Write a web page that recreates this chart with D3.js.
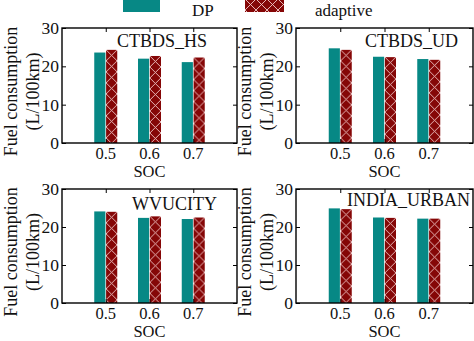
<!DOCTYPE html>
<html>
<head>
<meta charset="utf-8">
<script src="https://cdn.jsdelivr.net/npm/d3@7"></script>
<style>
  body { margin: 0; background: #fff; }
</style>
</head>
<body>
<div id="chart-area"></div>
<script>
// Data -------------------------------------------------
const socs = [0.5, 0.6, 0.7]
const series = ["DP", "adaptive"]
const cycles = ["CTBDS_HS", "CTBDS_UD", "WVUCITY", "INDIA_URBAN"]
const dpValues = [
  [23.6, 22.0, 21.1],
  [24.7, 22.5, 21.9],
  [24.1, 22.4, 22.1],
  [24.9, 22.5, 22.2]
]
const adaptiveValues = [
  [24.3, 22.7, 22.3],
  [24.3, 22.4, 21.7],
  [24.0, 22.8, 22.5],
  [24.7, 22.4, 22.2]
]
const yTicks = [0, 10, 20, 30]

// Canvas setup -----------------------------------------
const WIDTH = 474
const HEIGHT = 341
const TEAL = "#078885"
const DARKRED = "#850606"
const FONT = "'Liberation Serif', 'Times New Roman', Times, serif"

// panel boxes: left, top, width, height, and title anchor
const panels = [
  {left: 62,  top: 28,  w: 175, h: 115, tx: 117, ty: 47},
  {left: 296, top: 28,  w: 177, h: 115, tx: 365, ty: 47},
  {left: 62,  top: 189, w: 175, h: 114, tx: 132, ty: 210},
  {left: 296, top: 189, w: 177, h: 114, tx: 347, ty: 206}
]

const svg = d3.select("#chart-area").append("svg")
  .attr("width", WIDTH)
  .attr("height", HEIGHT)
  .attr("font-family", FONT)

// cross-hatch pattern for the adaptive bars
const defs = svg.append("defs")
const pat = defs.append("pattern")
  .attr("id", "xhatch")
  .attr("patternUnits", "userSpaceOnUse")
  .attr("width", 11)
  .attr("height", 11)
pat.append("rect").attr("width", 11).attr("height", 11).attr("fill", DARKRED)
pat.append("path")
  .attr("d", "M0,0L11,11M11,0L0,11")
  .attr("stroke", "#f2c8c8")
  .attr("stroke-width", 0.9)
  .attr("fill", "none")

const barBand = d3.scaleBand()
  .domain(series)
  .range([-11.5, 11.5])
  .paddingInner(0.06)

function addText(sel, fs){
  return sel.append("text")
    .attr("font-family", FONT)
    .attr("font-size", fs)
    .attr("fill", "#111")
}

cycles.forEach((cycle, k) => {
  const p = panels[k]
  const g = svg.append("g")
    .attr("transform", `translate(${p.left}, ${p.top})`)

  const x = d3.scaleLinear().domain([0.4, 0.8]).range([0, p.w])
  const y = d3.scaleLinear().domain([0, 30]).range([p.h, 0])

  const rows = socs.map((s, i) => ({soc: s, DP: dpValues[k][i], adaptive: adaptiveValues[k][i]}))

  // DP bars
  g.selectAll("rect.dp")
    .data(rows)
    .enter().append("rect")
    .attr("class", "dp")
    .attr("x", d => x(d.soc) + barBand("DP"))
    .attr("y", d => y(d.DP))
    .attr("width", barBand.bandwidth())
    .attr("height", d => y(0) - y(d.DP))
    .attr("fill", TEAL)

  // adaptive bars (group per bar so the hatch lines up with the bar edge)
  const ad = g.selectAll("g.ad")
    .data(rows)
    .enter().append("g")
    .attr("class", "ad")
    .attr("transform", d => `translate(${x(d.soc) + barBand("adaptive")}, ${y(d.adaptive)})`)
  ad.append("rect")
    .attr("width", barBand.bandwidth())
    .attr("height", d => y(0) - y(d.adaptive))
    .attr("fill", "url(#xhatch)")

  // frame
  g.append("rect")
    .attr("width", p.w)
    .attr("height", p.h)
    .attr("fill", "none")
    .attr("stroke", "#000")
    .attr("stroke-width", 1.4)

  // inward ticks
  const axB = d3.axisBottom(x).tickValues(socs).tickSize(-4).tickFormat("")
  const axT = d3.axisTop(x).tickValues(socs).tickSize(-4).tickFormat("")
  const axL = d3.axisLeft(y).tickValues(yTicks).tickSize(-4).tickFormat("")
  const axR = d3.axisRight(y).tickValues(yTicks).tickSize(-4).tickFormat("")
  ;[[axB, `translate(0,${p.h})`], [axT, "translate(0,0)"], [axL, "translate(0,0)"], [axR, `translate(${p.w},0)`]]
    .forEach(([ax, tr]) => {
      const a = g.append("g").attr("transform", tr).call(ax)
      a.select(".domain").remove()
      a.selectAll("line").attr("stroke", "#000").attr("stroke-width", 1)
    })

  // tick labels
  socs.forEach(s => {
    addText(g, "16.5px")
      .attr("x", x(s))
      .attr("y", p.h + 15.5)
      .attr("text-anchor", "middle")
      .text(d3.format(".1f")(s))
  })

  yTicks.forEach(t => {
    addText(g, "17.5px")
      .attr("x", -3)
      .attr("y", y(t))
      .attr("dy", "0.35em")
      .attr("text-anchor", "end")
      .text(t)
  })

  // axis titles
  addText(g, "16.5px")
    .attr("x", x(0.6))
    .attr("y", p.h + 34)
    .attr("text-anchor", "middle")
    .text("SOC")

  const yl = addText(g, "18px")
    .attr("transform", `translate(-45, ${p.h / 2 + 6}) rotate(-90)`)
    .attr("text-anchor", "middle")
  yl.append("tspan").attr("x", 0).attr("dy", 0).text("Fuel consumption")
  yl.append("tspan").attr("x", 0).attr("dy", "1.2em").text("(L/100km)")

  // panel title
  addText(svg, "18px")
    .attr("x", p.tx)
    .attr("y", p.ty)
    .text(cycle)
})

// Legend -----------------------------------------------
const leg = svg.append("g")
leg.append("rect")
  .attr("x", 123).attr("y", -2).attr("width", 37).attr("height", 14)
  .attr("fill", TEAL)
addText(leg, "17px")
  .attr("x", 192).attr("y", 15.5)
  .text(series[0])
leg.append("g")
  .attr("transform", "translate(245, -1)")
  .append("rect")
  .attr("width", 39).attr("height", 13)
  .attr("fill", "url(#xhatch)")
addText(leg, "17px")
  .attr("x", 315).attr("y", 15.5)
  .text(series[1])
</script>
</body>
</html>
